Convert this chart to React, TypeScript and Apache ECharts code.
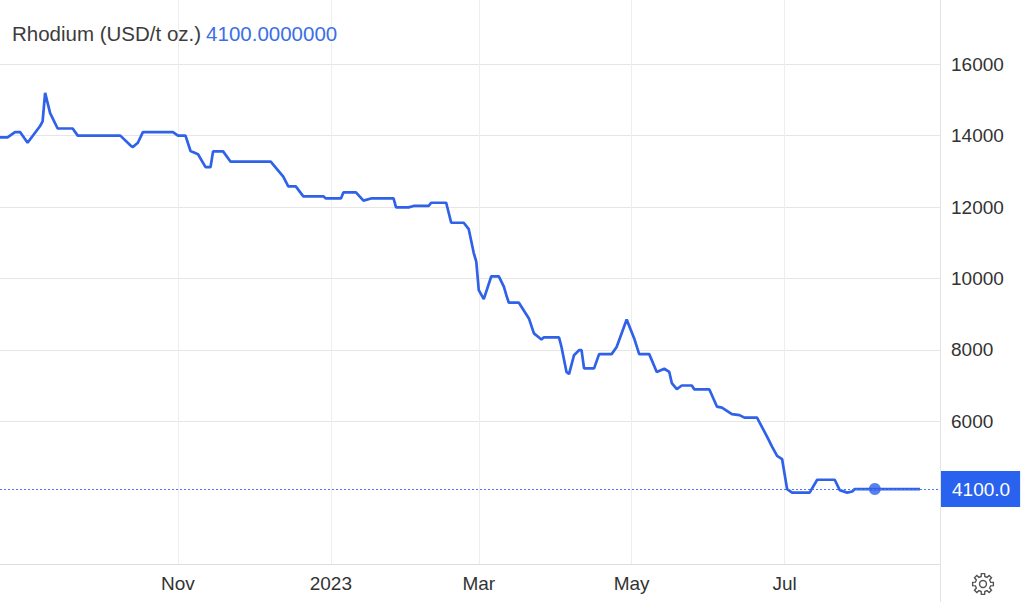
import React, { useEffect, useRef } from "react";
import * as echarts from "echarts";

const dates: string[] = [
  "2022-08-22", "2022-08-25", "2022-08-28", "2022-08-30", "2022-09-02", "2022-09-07", "2022-09-08", "2022-09-09",
  "2022-09-11", "2022-09-14", "2022-09-20", "2022-09-22", "2022-10-09", "2022-10-13", "2022-10-14", "2022-10-16",
  "2022-10-18", "2022-10-30", "2022-11-01", "2022-11-04", "2022-11-06", "2022-11-09", "2022-11-12", "2022-11-14",
  "2022-11-15", "2022-11-19", "2022-11-22", "2022-12-08", "2022-12-13", "2022-12-15", "2022-12-18", "2022-12-21",
  "2022-12-29", "2022-12-30", "2023-01-05", "2023-01-06", "2023-01-11", "2023-01-14", "2023-01-17", "2023-01-26",
  "2023-01-27", "2023-02-01", "2023-02-03", "2023-02-09", "2023-02-10", "2023-02-16", "2023-02-18", "2023-02-23",
  "2023-02-25", "2023-02-27", "2023-02-28", "2023-03-01", "2023-03-03", "2023-03-06", "2023-03-09", "2023-03-11",
  "2023-03-12", "2023-03-13", "2023-03-17", "2023-03-21", "2023-03-23", "2023-03-26", "2023-03-27", "2023-04-02",
  "2023-04-03", "2023-04-05", "2023-04-06", "2023-04-08", "2023-04-10", "2023-04-11", "2023-04-12", "2023-04-16",
  "2023-04-18", "2023-04-23", "2023-04-25", "2023-04-29", "2023-05-02", "2023-05-04", "2023-05-08", "2023-05-11",
  "2023-05-14", "2023-05-16", "2023-05-17", "2023-05-19", "2023-05-21", "2023-05-25", "2023-05-26", "2023-06-01",
  "2023-06-04", "2023-06-06", "2023-06-10", "2023-06-13", "2023-06-15", "2023-06-20", "2023-06-24", "2023-06-26",
  "2023-06-28", "2023-06-30", "2023-07-02", "2023-07-04", "2023-07-11", "2023-07-14", "2023-07-21", "2023-07-23",
  "2023-07-26", "2023-07-28", "2023-07-29", "2023-08-24",
];

const prices: number[] = [
  13950, 13950, 14100, 14100, 13800, 14270, 14400, 15200,
  14630, 14200, 14200, 14000, 14000, 13730, 13680, 13800,
  14100, 14100, 14000, 14000, 13570, 13480, 13120, 13120,
  13560, 13560, 13270, 13270, 12850, 12580, 12580, 12300,
  12300, 12240, 12240, 12410, 12410, 12180, 12240, 12240,
  11990, 11990, 12030, 12030, 12120, 12120, 11560, 11560,
  11380, 10710, 10470, 9670, 9420, 10060, 10060, 9770,
  9530, 9320, 9320, 8880, 8460, 8290, 8350, 8350,
  8080, 7380, 7320, 7850, 7990, 7990, 7480, 7480,
  7880, 7880, 8080, 8850, 8320, 7880, 7880, 7380,
  7470, 7380, 7070, 6900, 7000, 7000, 6890, 6890,
  6410, 6380, 6200, 6170, 6100, 6100, 5570, 5290,
  5030, 4940, 4100, 4000, 4000, 4360, 4360, 4070,
  4000, 4030, 4100, 4100,
];

const tickDates: string[] = ["2022-11-01", "2023-01-01", "2023-03-01", "2023-05-01", "2023-07-01"];
const tickLabels: string[] = ["Nov", "2023", "Mar", "May", "Jul"];
const yTickLabels: string[] = ["6000", "8000", "10000", "12000", "14000", "16000"];

const lastPrice = 4100;
const markerDate = "2023-08-06";
const titleName = "Rhodium (USD/t oz.)";
const titleValue = "4100.0000000";
const priceTag = "4100.0";

const axisMin = "2022-08-22";
const axisMax = "2023-09-01";

const ts = (s: string): number => {
  const [y, m, d] = s.split("-").map(Number);
  return Date.UTC(y, m - 1, d);
};

const FONT = "'Liberation Sans', Arial, Helvetica, sans-serif";
const BLUE = "#2f62e8";

function gearPoints(n: number, ro: number, ri: number): number[][] {
  const pts: number[][] = [];
  const step = (2 * Math.PI) / n;
  for (let i = 0; i < n; i++) {
    const a = i * step;
    const tw = step * 0.2;
    const bw = step * 0.3;
    pts.push([ri * Math.cos(a - bw), ri * Math.sin(a - bw)]);
    pts.push([ro * Math.cos(a - tw), ro * Math.sin(a - tw)]);
    pts.push([ro * Math.cos(a + tw), ro * Math.sin(a + tw)]);
    pts.push([ri * Math.cos(a + bw), ri * Math.sin(a + bw)]);
  }
  return pts;
}

export default function App() {
  const ref = useRef<HTMLDivElement>(null);

  useEffect(() => {
    if (!ref.current) return;
    const chart = echarts.init(ref.current, null, { renderer: "svg" });
    const tickTs = tickDates.map(ts);
    const seriesData = dates.map((d, i) => [ts(d), prices[i]]);

    chart.setOption({
      animation: false,
      backgroundColor: "#ffffff",
      textStyle: { fontFamily: FONT },
      title: {
        left: 7,
        top: 18,
        text: `{a|${titleName}} {b|${titleValue}}`,
        textStyle: {
          fontWeight: "normal",
          rich: {
            a: { fontSize: 20.5, color: "#3c3c3c", fontFamily: FONT, fontWeight: "normal" },
            b: { fontSize: 20.5, color: "#3b6fe6", fontFamily: FONT, fontWeight: "normal" },
          },
        },
      },
      grid: { left: 0, right: 84, top: 0, bottom: 38, containLabel: false },
      xAxis: {
        type: "value",
        min: ts(axisMin),
        max: ts(axisMax),
        axisLine: { show: true, lineStyle: { color: "#dedede", width: 1 } },
        axisTick: { show: false, customValues: tickTs },
        axisLabel: {
          customValues: tickTs,
          margin: 10,
          fontSize: 19,
          color: "#333333",
          fontFamily: FONT,
          formatter: (v: number) => {
            const idx = tickTs.indexOf(v);
            return idx >= 0 ? tickLabels[idx] : "";
          },
        },
        splitLine: { show: true, lineStyle: { color: "#eeeeee", width: 1 } },
      },
      yAxis: {
        type: "value",
        position: "right",
        min: 2000,
        max: 17800,
        interval: 2000,
        axisLine: { show: false },
        axisTick: { show: false },
        axisLabel: {
          margin: 11,
          fontSize: 19,
          color: "#333333",
          fontFamily: FONT,
          formatter: (v: number) => (yTickLabels.indexOf(String(v)) >= 0 ? String(v) : ""),
        },
        splitLine: {
          show: true,
          lineStyle: {
            color: [
              "transparent", "transparent", "#e6e6e6", "#e6e6e6", "#e6e6e6",
              "#e6e6e6", "#e6e6e6", "#e6e6e6", "transparent",
            ],
            width: 1,
          },
        },
      },
      series: [
        {
          type: "line",
          data: seriesData,
          showSymbol: false,
          symbol: "none",
          lineStyle: { color: BLUE, width: 2.7 },
          itemStyle: { color: BLUE },
          markLine: {
            silent: true,
            symbol: "none",
            lineStyle: { color: "#4a78f5", type: [2, 2], width: 1.2 },
            label: {
              show: true,
              position: "end",
              distance: 1,
              formatter: priceTag,
              color: "#ffffff",
              fontSize: 19,
              fontFamily: FONT,
              backgroundColor: "#2962ee",
              padding: [9, 10, 8, 11],
            },
            data: [{ yAxis: lastPrice }],
          },
          z: 3,
        },
        {
          type: "scatter",
          data: [[ts(markerDate), lastPrice]],
          symbol: "circle",
          symbolSize: 12,
          itemStyle: { color: BLUE },
          z: 4,
        },
      ],
      graphic: [
        {
          type: "line",
          shape: { x1: 940.5, y1: 0, x2: 940.5, y2: 602 },
          style: { stroke: "#e3e3e3", lineWidth: 1 },
          silent: true,
        },
        {
          type: "polygon",
          x: 983,
          y: 584,
          shape: { points: gearPoints(8, 10.5, 7.8) },
          style: { fill: "none", stroke: "#555555", lineWidth: 1.4 },
          silent: true,
        },
        {
          type: "circle",
          x: 983,
          y: 584,
          shape: { cx: 0, cy: 0, r: 3.5 },
          style: { fill: "none", stroke: "#555555", lineWidth: 1.4 },
          silent: true,
        },
      ],
    });

    return () => chart.dispose();
  }, []);

  return <div ref={ref} style={{ width: 1024, height: 602, position: "absolute", left: 0, top: 0 }} />;
}
